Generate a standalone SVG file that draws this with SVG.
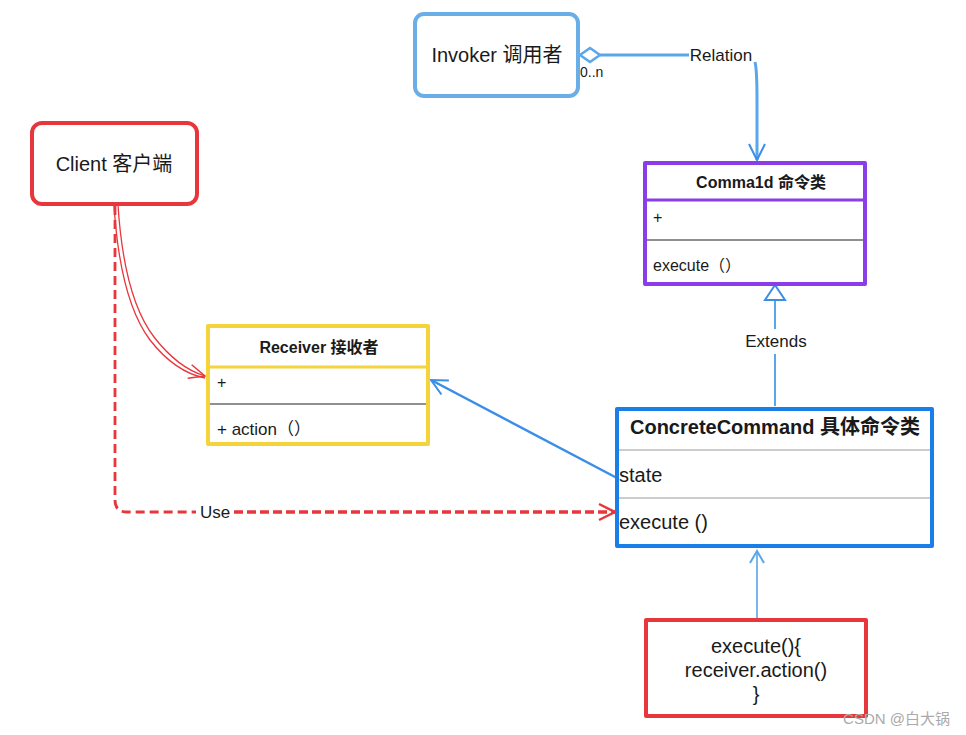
<svg xmlns="http://www.w3.org/2000/svg" width="966" height="735" viewBox="0 0 966 735">
<defs>
<style>
text{font-family:"Liberation Sans","Noto Sans CJK SC",Arial,sans-serif;fill:#1a1a1a}
.t20{font-size:20px}
.t16{font-size:16px}
.b16{font-size:16px;font-weight:bold}
.b20{font-size:20px;font-weight:bold}
.lbl{font-size:17px}
.box{fill:#fff;stroke-width:4;stroke-linejoin:round}
.sep{stroke:#222;stroke-width:1.2}
.gsep{stroke:#999;stroke-width:1}
</style>
<marker id="openBlue" markerWidth="16" markerHeight="16" refX="13" refY="8" orient="auto" markerUnits="userSpaceOnUse">
<path d="M1,1 L13,8 L1,15" fill="none" stroke="#5aa6ea" stroke-width="2"/>
</marker>
<marker id="openBlue2" markerWidth="20" markerHeight="20" refX="17" refY="10" orient="auto" markerUnits="userSpaceOnUse">
<path d="M1,2 L17,10 L1,18" fill="none" stroke="#3a8ee8" stroke-width="2"/>
</marker>
<marker id="openRed" markerWidth="20" markerHeight="20" refX="17" refY="10" orient="auto" markerUnits="userSpaceOnUse">
<path d="M1,2 L17,10 L1,18" fill="none" stroke="#e8373c" stroke-width="2.5"/>
</marker>
<marker id="openRedThin" markerWidth="20" markerHeight="20" refX="17" refY="10" orient="auto" markerUnits="userSpaceOnUse">
<path d="M1,3 L17,10 L1,17" fill="none" stroke="#e8373c" stroke-width="1.5"/>
</marker>
</defs>
<rect width="966" height="735" fill="#fff"/>

<g id="connectors">
  <!-- Invoker to Command -->
  <path d="M600,55 L689,55" fill="none" stroke="#5aa6ea" stroke-width="3"/>
  <path d="M580,55 L590,48 L600,55 L590,62 Z" fill="#fff" stroke="#5aa6ea" stroke-width="2.5"/>
  <path d="M755,62 Q757,70 757,100 L757,160" fill="none" stroke="#5aa6ea" stroke-width="3" marker-end="url(#openBlue2)"/>
  <text x="721" y="61" text-anchor="middle" class="lbl">Relation</text>
  <text x="580" y="77" style="font-size:14px">0..n</text>

  <!-- Extends -->
  <path d="M775,406 L775,354" fill="none" stroke="#5aa6ea" stroke-width="2"/>
  <path d="M775,329 L775,300" fill="none" stroke="#5aa6ea" stroke-width="2"/>
  <path d="M775,285 L785,300 L765,300 Z" fill="#fff" stroke="#3a8ee8" stroke-width="2"/>
  <text x="776" y="347" text-anchor="middle" class="lbl">Extends</text>

  <!-- ConcreteCommand to Receiver -->
  <path d="M617,478 L431,380" fill="none" stroke="#3a8ee8" stroke-width="2.5" marker-end="url(#openBlue2)"/>

  <!-- code box to ConcreteCommand -->
  <path d="M757,620 L757,551" fill="none" stroke="#7ab6ee" stroke-width="2" marker-end="url(#openBlue)"/>

  <!-- Client to Receiver (double curve) -->
  <path d="M114,205 Q120,300 150,340 Q175,372 205,378" fill="none" stroke="#e8373c" stroke-width="1.3"/>
  <path d="M118,205 Q124,298 154,337 Q178,368 205,376" fill="none" stroke="#e8373c" stroke-width="1.3" marker-end="url(#openRedThin)"/>

  <!-- Client to ConcreteCommand (dashed, Use) -->
  <path d="M115,206 L115,500 Q115,512 127,512 L196,512" fill="none" stroke="#e8373c" stroke-width="2.8" stroke-dasharray="9,5"/>
  <path d="M234,512 L615,512" fill="none" stroke="#e8373c" stroke-width="3.5" stroke-dasharray="9,4" marker-end="url(#openRed)"/>
  <text x="215" y="518" text-anchor="middle" class="lbl">Use</text>
</g>

<g id="invoker">
  <rect x="415" y="14" width="163" height="82" rx="9" class="box" stroke="#6aaee8"/>
  <text x="497" y="62" text-anchor="middle" class="t20">Invoker 调用者</text>
</g>

<g id="command">
  <rect x="645" y="163" width="220" height="121" class="box" stroke="#8a3ee8"/>
  <line x1="645" y1="200" x2="865" y2="200" stroke="#8a3ee8" stroke-width="3"/>
  <text x="761" y="188" text-anchor="middle" class="b16">Comma1d 命令类</text>
  <text x="653" y="223" class="t16">+</text>
  <line x1="647" y1="240" x2="863" y2="240" class="sep"/>
  <text x="653" y="271" class="t16">execute（）</text>
</g>

<g id="client">
  <rect x="32" y="123" width="165" height="81" rx="10" class="box" stroke="#e8373c"/>
  <text x="114" y="171" text-anchor="middle" class="t20">Client 客户端</text>
</g>

<g id="receiver">
  <rect x="208" y="326" width="220" height="118" class="box" stroke="#f5d33a"/>
  <line x1="208" y1="367" x2="428" y2="367" stroke="#f5d33a" stroke-width="3"/>
  <text x="319" y="353" text-anchor="middle" class="b16">Receiver 接收者</text>
  <text x="217" y="388" class="t16">+</text>
  <line x1="210" y1="404" x2="426" y2="404" class="sep"/>
  <text x="217" y="435" style="font-size:17px">+ action（）</text>
</g>

<g id="concreteCommand">
  <rect x="617" y="409" width="315" height="137" class="box" stroke="#1a7ee8"/>
  <text x="775" y="434" text-anchor="middle" class="b20">ConcreteCommand 具体命令类</text>
  <line x1="619" y1="450" x2="930" y2="450" class="gsep"/>
  <text x="619" y="482" class="t20">state</text>
  <line x1="619" y1="498" x2="930" y2="498" class="gsep"/>
  <text x="619" y="529" class="t20">execute ()</text>
</g>

<g id="codeBox">
  <rect x="646" y="620" width="220" height="96" class="box" stroke="#e8373c"/>
  <text x="756" y="653" text-anchor="middle" style="font-size:20px">execute(){</text>
  <text x="756" y="677" text-anchor="middle" style="font-size:20px">receiver.action()</text>
  <text x="756" y="701" text-anchor="middle" style="font-size:20px">}</text>
</g>

<text x="950" y="724" text-anchor="end" style="font-size:15px;fill:#aaa">CSDN @白大锅</text>
</svg>
